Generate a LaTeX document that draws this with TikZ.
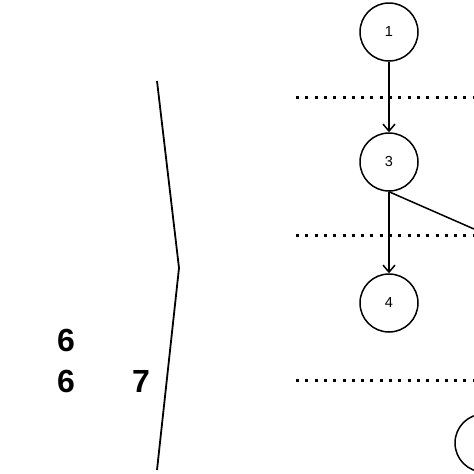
\documentclass[tikz,border=0pt]{standalone}
\usepackage{fontspec}
\setmainfont{Liberation Sans}
\usetikzlibrary{arrows.meta}
\tikzset{
  circ/.style={draw, circle, line width=1.5pt, minimum size=58pt, inner sep=0pt, font=\fontsize{14.5}{16}\selectfont},
  bignum/.style={font=\fontsize{32}{36}\selectfont\bfseries},
  level/.style={line width=3pt, dash pattern=on 3pt off 6.3pt},
  link/.style={line width=1.5pt},
}
\begin{document}
\begin{tikzpicture}[x=1pt,y=-1pt]
\useasboundingbox (0,0) rectangle (474,474);
\clip (0,0) rectangle (474,474);
\node [circ] (v1) at (389,32) {1};
\node [circ] (v3) at (389,162) {3};
\node [circ] (v4) at (389,303) {4};
\node [circ] (v5) at (484,443) {};
\coordinate (v6) at (474,229);
\draw [link,-{Straight Barb[length=7pt,width=12pt]}] (v1) -- (v3);
\draw [link,-{Straight Barb[length=7pt,width=12pt]}] (v3) -- (v4);
\draw [link] (v3.south) -- (v6);
% levels
\draw [level] (296,97) -- (480,97);
\draw [level] (296,235) -- (480,235);
\draw [level] (296,380) -- (480,380);
% left part
\draw [line width=1.8pt] (157,81) -- (179,268) -- (157,470);
\node [bignum] (v7) at (66,340) {6};
\node [bignum] (v8) at (66,381) {6};
\node [bignum] (v9) at (141,381) {7};
\end{tikzpicture}
\end{document}
